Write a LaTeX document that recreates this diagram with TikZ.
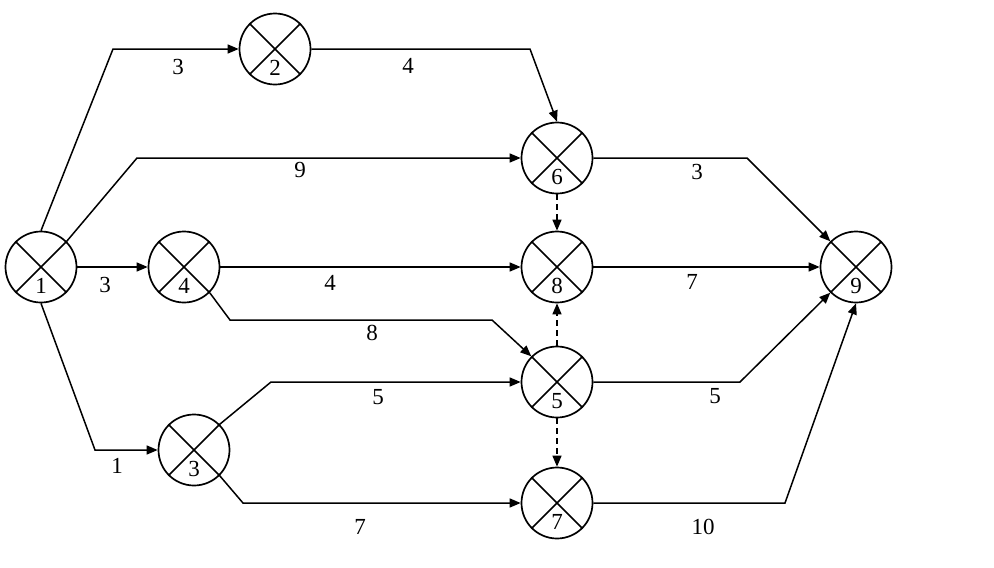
\documentclass[tikz,border=0pt]{standalone}
\usepackage{fontspec}
\setmainfont{Liberation Serif}
\usetikzlibrary{arrows.meta}
\begin{document}
\begin{tikzpicture}[x=1pt,y=-1pt,
  ev/.style={circle,draw,line width=1.7pt,minimum size=71pt,inner sep=0pt},
  num/.style={font=\fontsize{23}{23}\selectfont,inner sep=0pt},
  lab/.style={font=\fontsize{23}{23}\selectfont,inner sep=0pt},
  arr/.style={line width=1.5pt,-{Triangle[length=11pt,width=9pt]}},
  darr/.style={arr,dash pattern=on 6pt off 4pt}]
\useasboundingbox (0,0) rectangle (994,568);
\foreach \n/\x/\y in {1/41/267,2/275/49,4/184/267,6/557/158,8/557/267,9/856/267,5/557/382,3/194/450,7/557/503}{
  \node[ev] (n\n) at (\x,\y) {};
  \draw[line width=1.5pt] (n\n.45) -- (n\n.225) (n\n.135) -- (n\n.315);
  \node[num] at ([yshift=-19pt]n\n.center) {\n};
}
% solid arrows
\draw[arr] (n1.north) -- (113,49) -- (n2.west);
\draw[arr] (n1.45) -- (137,158) -- (n6.west);
\draw[arr] (n1.east) -- (n4.west);
\draw[arr] (n1.south) -- (95,450) -- (n3.west);
\draw[arr] (n2.east) -- (530,49) -- (n6.north);
\draw[arr] (n4.east) -- (n8.west);
\draw[arr] (n4.-45) -- (230,320) -- (492,320) -- (n5.135);
\draw[arr] (n3.45) -- (271,382) -- (n5.west);
\draw[arr] (n3.-45) -- (243,503) -- (n7.west);
\draw[arr] (n6.east) -- (747,158) -- (n9.135);
\draw[arr] (n8.east) -- (n9.west);
\draw[arr] (n5.east) -- (740,382) -- (n9.-135);
\draw[arr] (n7.east) -- (785,503) -- (n9.south);
% dummy arrows
\draw[darr] (n6.south) -- (n8.north);
\draw[darr] (n5.north) -- (n8.south);
\draw[darr] (n5.south) -- (n7.north);
% labels
\node[lab] (l12) at (178,67) {3};
\node[lab] (l26) at (408,66) {4};
\node[lab] (l16) at (300,170) {9};
\node[lab] (l69) at (697,172) {3};
\node[lab] (l14) at (105,285) {3};
\node[lab] (l48) at (330,283) {4};
\node[lab] (l89) at (692,282) {7};
\node[lab] (l45) at (372,333) {8};
\node[lab] (l35) at (378,397) {5};
\node[lab] (l59) at (715,396) {5};
\node[lab] (l13) at (117,466) {1};
\node[lab] (l37) at (360,527) {7};
\node[lab] (l79) at (703,527) {10};
\end{tikzpicture}
\end{document}
